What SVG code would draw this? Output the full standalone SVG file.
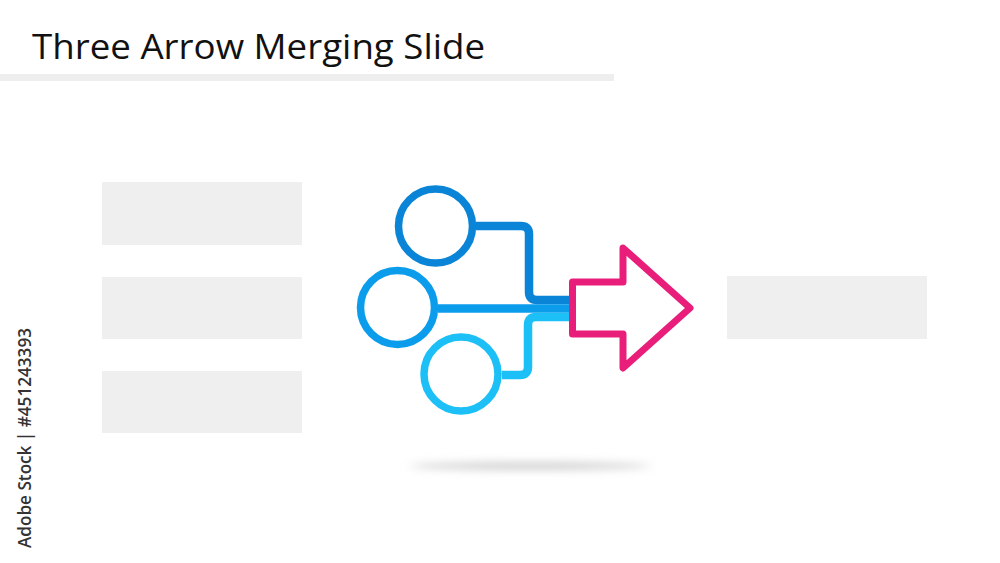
<svg xmlns="http://www.w3.org/2000/svg" width="1000" height="563" viewBox="0 0 1000 563">
  <defs>
    <style>
      .box { fill: #EFEFEF; }
      .ring { fill: none; stroke-width: 7.5; }
      .link { fill: none; stroke-width: 8.5; stroke-linejoin: round; }
      .c1 { stroke: #0A84D6; }
      .c2 { stroke: #0B9DEB; }
      .c3 { stroke: #1CC0F6; }
      .title { font-family: "Open Sans", "Liberation Sans", sans-serif; font-size: 34px; fill: #111111; }
      .credit { font-family: "Open Sans", "Liberation Sans", sans-serif; font-size: 18px; font-weight: 600; fill: #333333; }
    </style>
    <filter id="blur" x="-20%" y="-300%" width="140%" height="700%">
      <feGaussianBlur stdDeviation="6 4"/>
    </filter>
  </defs>
  <rect width="1000" height="563" fill="#FFFFFF"/>

  <g id="title">
    <text class="title" x="32" y="59" textLength="453" lengthAdjust="spacingAndGlyphs">Three Arrow Merging Slide</text>
    <rect x="0" y="74" width="614" height="7" fill="#EEEEEE"/>
  </g>

  <g id="box-left-1"><rect class="box" x="102" y="182" width="200" height="63"/></g>
  <g id="box-left-2"><rect class="box" x="102" y="277" width="200" height="62"/></g>
  <g id="box-left-3"><rect class="box" x="102" y="371" width="200" height="62"/></g>
  <g id="box-right"><rect class="box" x="727" y="276" width="200" height="63"/></g>

  <g id="shadow">
    <ellipse cx="530" cy="466" rx="120" ry="4" fill="#D2D2D2" filter="url(#blur)"/>
  </g>

  <g id="connectors">
    <path class="link c1" d="M476 226 H521 Q529 226 529 234 V292 Q529 300 537 300 H572"/>
    <path class="link c2" d="M438 308.5 H572"/>
    <path class="link c3" d="M502 375 H520 Q528 375 528 367 V325 Q528 317 536 317 H572"/>
  </g>

  <g id="circle-top"><circle class="ring c1" cx="435.5" cy="226" r="37"/></g>
  <g id="circle-middle"><circle class="ring c2" cx="397.5" cy="307.5" r="37"/></g>
  <g id="circle-bottom"><circle class="ring c3" cx="461" cy="374" r="37"/></g>

  <g id="arrow">
    <path d="M572.5 282 H623 V248 L690 308 L623 368 V334 H572.5 Z" fill="none" stroke="#E91E7B" stroke-width="7" stroke-linejoin="round"/>
  </g>

  <g id="credit">
    <text class="credit" transform="translate(31 548) rotate(-90)" textLength="220" lengthAdjust="spacingAndGlyphs">Adobe Stock | #451243393</text>
  </g>
</svg>
